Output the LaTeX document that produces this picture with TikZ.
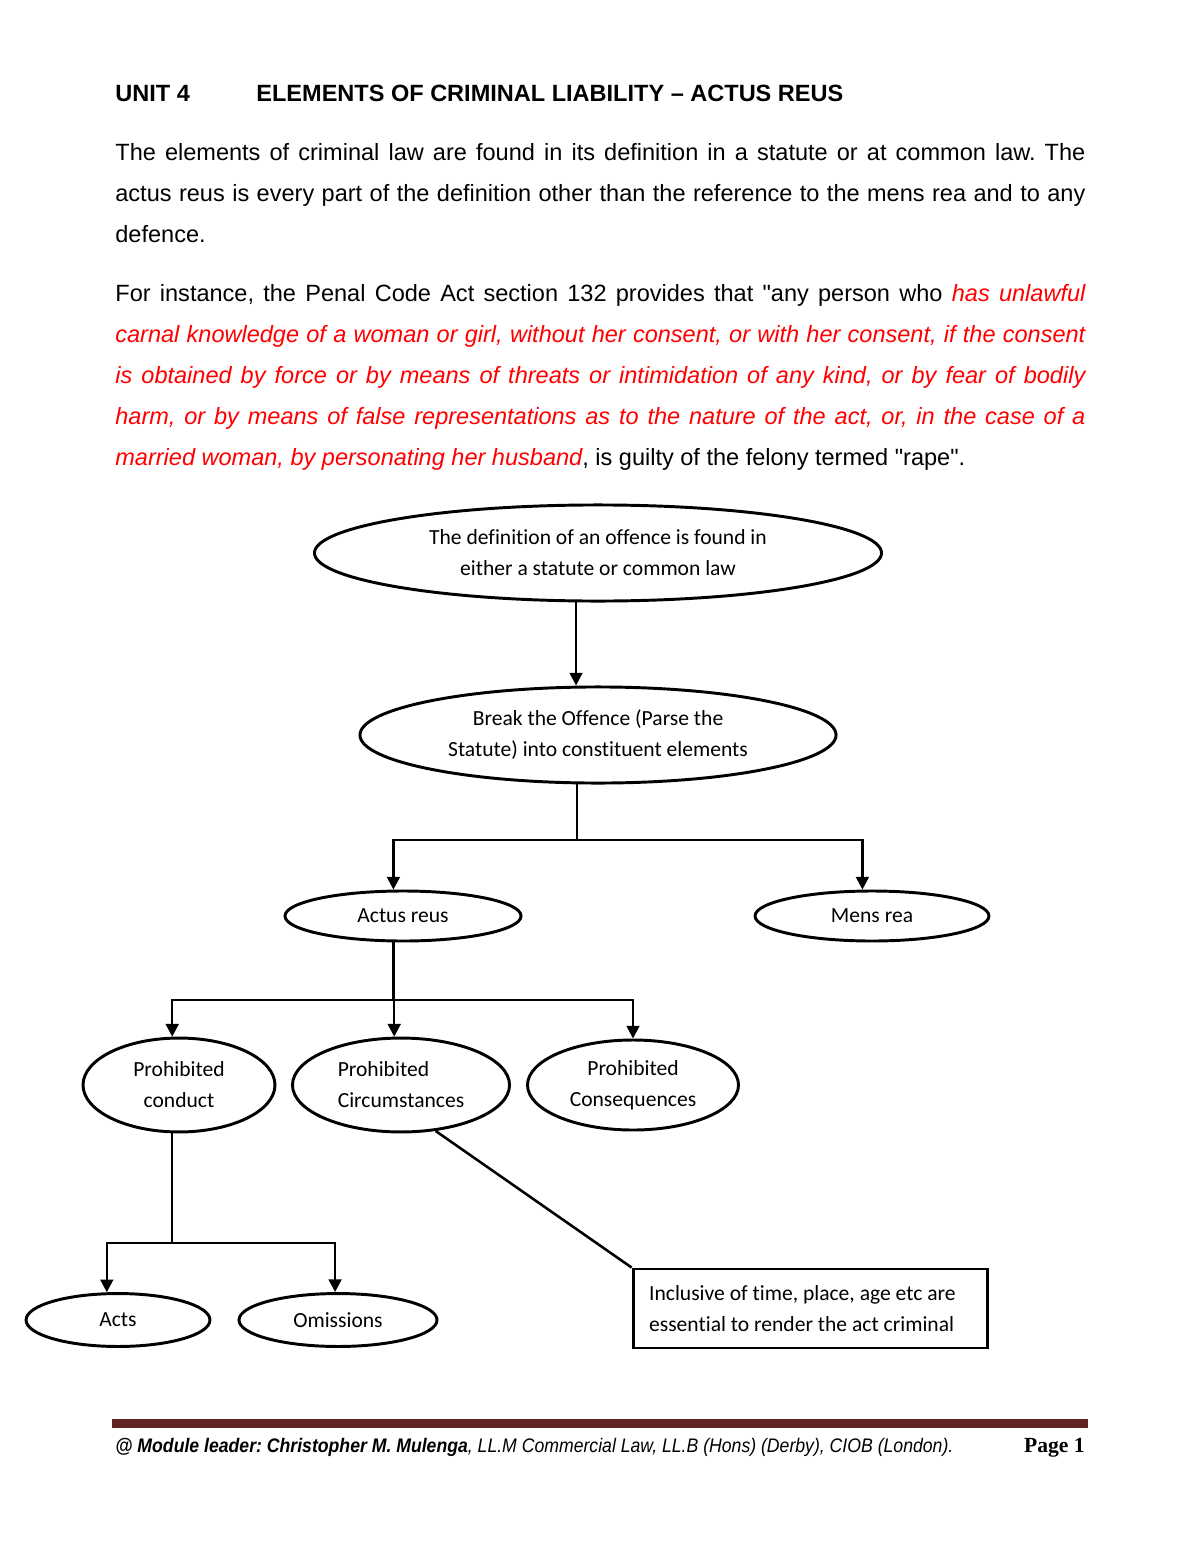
\documentclass[tikz,border=0pt]{standalone}
\usepackage{fontspec}
\setmainfont{Liberation Sans}
\newfontfamily\diagfont[Ligatures=CommonOff]{Carlito}
\newfontfamily\footfont[FakeStretch=0.9]{Liberation Sans}
\newfontfamily\pagefont{Liberation Serif}
\usetikzlibrary{arrows.meta,shapes.geometric}
\definecolor{footred}{RGB}{98,36,35}
\newcommand\bodysize{\fontsize{12}{20.9}\selectfont\frenchspacing}
\newcommand\dq{\XeTeXglyph\XeTeXcharglyph"22\relax}

\begin{document}
\begin{tikzpicture}[x=0.51pt,y=-0.51pt,
	oval/.style={draw,ellipse,line width=1.5pt,inner sep=0pt,align=center,font=\diagfont\fontsize{11}{15.8}\selectfont},
	arr/.style={-{Triangle[length=6.5pt,width=6.5pt]}},
	body/.style={anchor=north west,inner sep=0pt,text width=494.7pt,align=justify,font=\bodysize}]
	\useasboundingbox (0,0) rectangle (1200,1553);
	% heading and text
	\path (115,102) node[anchor=base west,inner sep=0pt,font=\bodysize\bfseries] (unit)  {UNIT 4};
	\path (256,102) node[anchor=base west,inner sep=0pt,font=\bodysize\bfseries] (title) {ELEMENTS OF CRIMINAL LIABILITY – ACTUS REUS};
	\path (115,143) node[body] (intro) {The elements of criminal law are found in its definition in a statute or at common law. The\linebreak
		actus reus is every part of the definition other than the reference to the mens rea and to any\linebreak
		defence.};
	\path (115,284) node[body] (rape) {For instance, the Penal Code Act section 132 provides that \dq any person who {\color{red}\itshape has unlawful\linebreak
		carnal knowledge of a woman or girl, without her consent, or with her consent, if the consent\linebreak
		is obtained by force or by means of threats or intimidation of any kind, or by fear of bodily\linebreak
		harm, or by means of false representations as to the nature of the act, or, in the case of a\linebreak
		married woman, by personating her husband}, is guilty of the felony termed \dq rape\dq.};

	\begin{scope}[line width=1.3pt]
		\path (598, 553) node[oval,minimum width=289.2pt,minimum height=49pt]   (def)     {The definition of an offence is found in\\either a statute or common law};
		\path (598, 735) node[oval,minimum width=242.8pt,minimum height=49pt]   (brk)     {Break the Offence (Parse the\\Statute) into constituent elements};
		\path (403, 916) node[oval,minimum width=120.4pt,minimum height=25.5pt] (actus)   {Actus reus};
		\path (872, 916) node[oval,minimum width=119.3pt,minimum height=25.5pt] (mens)    {Mens rea};
		\path (179,1085) node[oval,minimum width=97.9pt,minimum height=47.9pt]  (conduct) {Prohibited\\conduct};
		\path (401,1085) node[oval,minimum width=110.7pt,minimum height=47.9pt,align=left] (circ) {Prohibited\\Circumstances};
		\path (633,1085) node[oval,minimum width=107.6pt,minimum height=45.9pt] (cons)    {Prohibited\\Consequences};
		\path (118,1320) node[oval,minimum width=93.8pt,minimum height=27pt]    (acts)    {Acts};
		\path (338,1320) node[oval,minimum width=101pt,minimum height=27pt]     (omit)    {Omissions};
		\path (810.5,1308.5) node[draw,line width=1.5pt,minimum height=40.3pt,text width=164.6pt,inner xsep=8.2pt,align=left,font=\diagfont\fontsize{11}{15.8}\selectfont] (note) {\spaceskip=0pt Inclusive of time, place, age etc are\\essential to render the act criminal};

		\coordinate (fork1) at (578, 840);
		\coordinate (fork2) at (394,1000);
		\coordinate (fork3) at (172,1243);

		\draw[arr] (def.-114) -- (def.-114 |- brk.north);
		\draw      (brk.-113) -- (brk.-113 |- fork1);
		\draw[arr] (fork1) -| (actus.110);
		\draw[arr] (fork1) -| (mens.110);
		\draw      (actus.-110) -- (actus.-110 |- fork2);
		\draw[arr] (fork2) -| (conduct.98);
		\draw[arr] (fork2) -| (circ.98);
		\draw[arr] (fork2) -| (cons.north);
		\draw      (conduct.-98) -- (conduct.-98 |- fork3);
		\draw[arr] (fork3) -| (acts.112);
		\draw[arr] (fork3) -| (omit.96);
		\draw      (circ.-53) -- (note.north west);
	\end{scope}

	% footer
	\fill[footred] (112,1419) rectangle (1088,1428);
	\path (115,1452) node[anchor=base west,inner sep=0pt,font=\footfont\fontsize{10}{12}\selectfont\frenchspacing] (lead) {{\bfseries\itshape @ Module leader: Christopher M. Mulenga}\itshape, LL.M Commercial Law, LL.B (Hons) (Derby), CIOB (London).};
	\path (1085,1452) node[anchor=base east,inner sep=0pt,font=\pagefont\bfseries\fontsize{11}{13}\selectfont] (page) {Page 1};
\end{tikzpicture}
\end{document}
